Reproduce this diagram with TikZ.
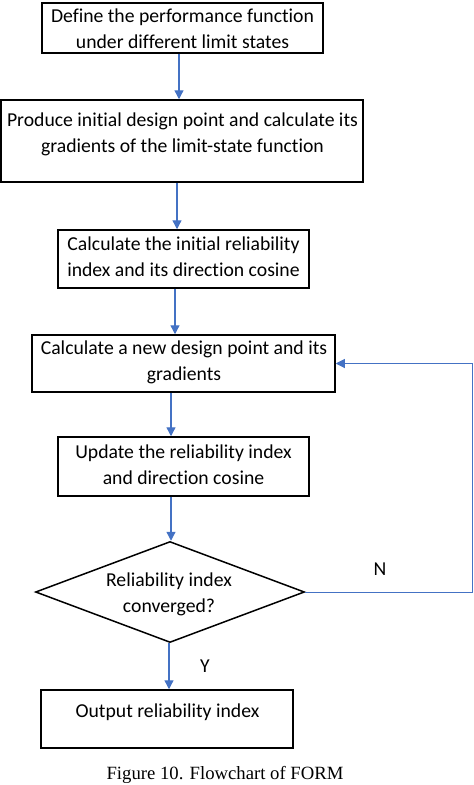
\documentclass[tikz,border=0pt]{standalone}
\usepackage{fontspec}
\setmainfont{Carlito}[Ligatures=NoCommon]
\newfontfamily\capfont{Liberation Serif}
\usetikzlibrary{arrows.meta,shapes.geometric}
\definecolor{arrowblue}{HTML}{4472C4}
\tikzset{
  box/.style={draw=black, line width=1.5pt, inner sep=0pt},
  txt/.style={align=center, inner sep=0pt, font=\fontsize{19.7pt}{26pt}\selectfont},
  arr/.style={draw=arrowblue, line width=1.3pt, -{Triangle[length=9pt,width=9pt]}},
  fb/.style={draw=arrowblue, line width=1pt, -{Triangle[length=9pt,width=9pt]}},
  lbl/.style={inner sep=0pt, font=\fontsize{19.7pt}{22pt}\selectfont}
}
\begin{document}
\begin{tikzpicture}[x=1pt,y=-1pt]
\useasboundingbox (0,0) rectangle (474,785);
% boxes
\node[box, minimum width=281pt, minimum height=50pt] (b1) at (182.5,28) {};
\node[box, minimum width=362pt, minimum height=82pt] (b2) at (182,141) {};
\node[box, minimum width=251pt, minimum height=58pt] (b3) at (183.5,259) {};
\node[box, minimum width=303pt, minimum height=57pt] (b4) at (183.5,363.5) {};
\node[box, minimum width=251pt, minimum height=59pt] (b5) at (183.5,466.5) {};
\node[box, draw, diamond, minimum width=269pt, minimum height=101pt] (d) at (170,592) {};
\node[box, minimum width=252pt, minimum height=58pt] (b6) at (167,719) {};
% texts
\node[txt] (t1) at (182.5,29) {Define the performance function\\under different limit states};
\node[txt] (t2) at (182.5,134) {Produce initial design point and calculate its\\gradients of the limit-state function};
\node[txt] (t3) at (183.5,257) {Calculate the initial reliability\\index and its direction cosine};
\node[txt] (t4) at (184,362) {Calculate a new design point and its\\gradients};
\node[txt] (t5) at (183.5,465) {Update the reliability index\\and direction cosine};
\node[txt] (td) at (169,594) {Reliability index\\converged?};
\node[txt] (t6) at (167.5,712) {Output reliability index};
\node[lbl] (n) at (380,569) {N};
\node[lbl] (y) at (205,666) {Y};
\node[inner sep=0pt, font=\capfont\fontsize{18.7pt}{20pt}\selectfont] (cap) at (225,775) {Figure 10. Flowchart of FORM};
% connectors
\draw[arr] ([xshift=-3.5pt]b1.south) -- ([xshift=-3pt]b2.north);
\draw[arr] ([xshift=-5pt]b2.south) -- ([xshift=-6.5pt]b3.north);
\draw[arr] ([xshift=-8.5pt]b3.south) -- ([xshift=-8.5pt]b4.north);
\draw[arr] ([xshift=-12.5pt]b4.south) -- ([xshift=-12.5pt]b5.north);
\draw[arr] ([xshift=-12.5pt]b5.south) -- ([xshift=1pt]d.north);
\draw[arr] ([xshift=-1pt]d.south) -- ([xshift=2pt]b6.north);
\draw[fb] (d.east) -- ++(167.5,0) |- (b4.east);
\end{tikzpicture}
\end{document}
